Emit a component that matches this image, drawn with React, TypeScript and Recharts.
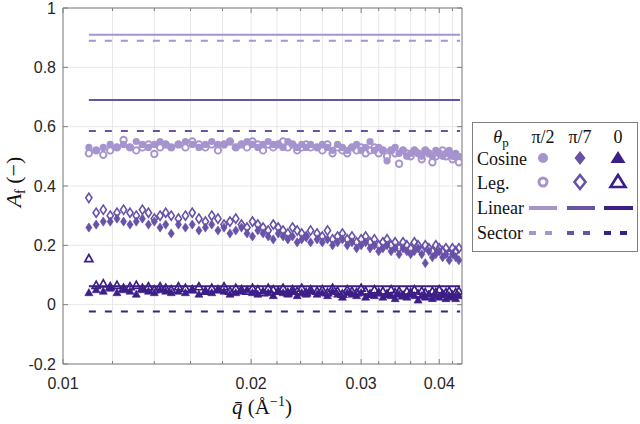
import { ComposedChart, Scatter, Line, XAxis, YAxis, CartesianGrid, ReferenceArea } from 'recharts';

// scattering vector q (1/Å), shared by all scatter series
const qValues = [
  0.0110, 0.0113, 0.0116, 0.0119, 0.0122, 0.0125, 0.0128, 0.0131, 0.0134, 0.0137, 0.0140, 0.0143, 0.0146, 0.0149,
  0.0153, 0.0157, 0.0161, 0.0165, 0.0169, 0.0173, 0.0177, 0.0181, 0.0185, 0.0189, 0.0193, 0.0197, 0.0201, 0.0205,
  0.0209, 0.0213, 0.0217, 0.0221, 0.0225, 0.0229, 0.0233, 0.0237, 0.0241, 0.0245, 0.0249,
  0.0255, 0.0260, 0.0265, 0.0270, 0.0275, 0.0280, 0.0285, 0.0290, 0.0295, 0.0300, 0.0305, 0.0310, 0.0315, 0.0320,
  0.0325, 0.0330, 0.0335, 0.0340, 0.0345, 0.0350, 0.0355, 0.0360, 0.0365, 0.0370, 0.0375, 0.0380, 0.0385, 0.0390,
  0.0395, 0.0400, 0.0405, 0.0410, 0.0415, 0.0420, 0.0425, 0.0430,
];

const cosinePi2 = [
  0.53, 0.52, 0.53, 0.54, 0.53, 0.54, 0.53, 0.55, 0.54, 0.53, 0.54, 0.55, 0.54, 0.53,
  0.54, 0.55, 0.54, 0.53, 0.54, 0.55, 0.54, 0.54, 0.55, 0.53, 0.54, 0.55, 0.54, 0.53, 0.54, 0.55, 0.54, 0.54, 0.53, 0.55, 0.54, 0.53, 0.54, 0.53, 0.54,
  0.53, 0.54, 0.53, 0.52, 0.54, 0.53, 0.52, 0.53, 0.54, 0.52, 0.53, 0.55, 0.52, 0.53, 0.52, 0.485, 0.52, 0.53, 0.51, 0.52, 0.50, 0.51, 0.52, 0.51, 0.50, 0.52, 0.51, 0.50, 0.52, 0.51, 0.50, 0.51, 0.52, 0.50, 0.51, 0.50,
];
const legPi2 = [
  0.51, 0.52, 0.505, 0.52, 0.53, 0.555, 0.53, 0.52, 0.53, 0.54, 0.508, 0.53, 0.54, 0.53,
  0.54, 0.53, 0.55, 0.54, 0.53, 0.54, 0.52, 0.54, 0.55, 0.53, 0.54, 0.53, 0.55, 0.54, 0.52, 0.54, 0.53, 0.54, 0.55, 0.53, 0.54, 0.52, 0.53, 0.54, 0.53,
  0.53, 0.52, 0.54, 0.51, 0.53, 0.52, 0.51, 0.53, 0.52, 0.53, 0.51, 0.52, 0.53, 0.51, 0.52, 0.50, 0.52, 0.51, 0.475, 0.52, 0.51, 0.50, 0.52, 0.51, 0.49, 0.52, 0.51, 0.48, 0.50, 0.51, 0.52, 0.50, 0.51, 0.49, 0.50, 0.48,
];
const cosinePi7 = [
  0.26, 0.27, 0.28, 0.28, 0.29, 0.28, 0.27, 0.28, 0.29, 0.27, 0.28, 0.26, 0.27, 0.24,
  0.27, 0.26, 0.27, 0.25, 0.26, 0.27, 0.25, 0.26, 0.24, 0.25, 0.26, 0.24, 0.23, 0.25, 0.24, 0.23, 0.22, 0.24, 0.23, 0.22, 0.23, 0.21, 0.22, 0.23, 0.21,
  0.22, 0.21, 0.22, 0.20, 0.21, 0.22, 0.20, 0.21, 0.19, 0.20, 0.21, 0.19, 0.20, 0.18, 0.19, 0.20, 0.18, 0.19, 0.17, 0.19, 0.18, 0.17, 0.18, 0.19, 0.17, 0.14, 0.18, 0.16, 0.17, 0.18, 0.16, 0.17, 0.15, 0.17, 0.16, 0.15,
];
const legPi7 = [
  0.36, 0.31, 0.32, 0.30, 0.31, 0.32, 0.31, 0.30, 0.32, 0.31, 0.29, 0.30, 0.31, 0.30,
  0.29, 0.30, 0.31, 0.29, 0.28, 0.30, 0.29, 0.27, 0.28, 0.29, 0.27, 0.26, 0.28, 0.27, 0.26, 0.25, 0.27, 0.26, 0.25, 0.24, 0.26, 0.25, 0.24, 0.23, 0.25,
  0.24, 0.23, 0.25, 0.22, 0.23, 0.24, 0.22, 0.23, 0.21, 0.22, 0.23, 0.21, 0.22, 0.20, 0.21, 0.22, 0.20, 0.21, 0.19, 0.21, 0.20, 0.19, 0.21, 0.20, 0.18, 0.20, 0.19, 0.18, 0.20, 0.19, 0.18, 0.19, 0.17, 0.19, 0.18, 0.19,
];
const cosine0 = [
  0.040, 0.050, 0.045, 0.055, 0.040, 0.050, 0.045, 0.035, 0.050, 0.045, 0.040, 0.050, 0.045, 0.040,
  0.045, 0.040, 0.050, 0.035, 0.045, 0.040, 0.050, 0.045, 0.035, 0.040, 0.045, 0.050, 0.040, 0.035, 0.045, 0.040, 0.030, 0.045, 0.040, 0.035, 0.045, 0.030, 0.040, 0.035, 0.045,
  0.035, 0.040, 0.030, 0.045, 0.035, 0.025, 0.040, 0.035, 0.030, 0.040, 0.025, 0.035, 0.030, 0.040, 0.025, 0.035, 0.030, 0.020, 0.035, 0.030, 0.025, 0.035, 0.030, 0.015, 0.030, 0.025, 0.035, 0.020, 0.030, 0.025, 0.035, 0.020, 0.030, 0.025, 0.020, 0.030,
];
const leg0 = [
  0.155, 0.065, 0.070, 0.060, 0.065, 0.055, 0.060, 0.065, 0.055, 0.060, 0.050, 0.060, 0.055, 0.050,
  0.060, 0.055, 0.050, 0.060, 0.045, 0.055, 0.050, 0.060, 0.045, 0.055, 0.050, 0.045, 0.055, 0.050, 0.040, 0.055, 0.050, 0.045, 0.055, 0.040, 0.050, 0.045, 0.055, 0.040, 0.050,
  0.045, 0.050, 0.040, 0.055, 0.045, 0.035, 0.050, 0.045, 0.040, 0.055, 0.045, 0.035, 0.050, 0.040, 0.045, 0.035, 0.050, 0.040, 0.045, 0.030, 0.045, 0.040, 0.050, 0.035, 0.045, 0.040, 0.030, 0.045, 0.040, 0.050, 0.035, 0.040, 0.045, 0.030, 0.040, 0.045,
];

// constant models, order: π/2, π/7, 0
const linearLevels = [0.91, 0.69, 0.062];
const sectorLevels = [0.89, 0.585, -0.023];
const lineSpan = [0.011, 0.0432];

const xTicks = [
  0.01, 0.012, 0.014, 0.016, 0.018, 0.02, 0.022, 0.024, 0.026, 0.028, 0.03,
  0.032, 0.034, 0.036, 0.038, 0.04, 0.042,
];
const xLabelTicks = [0.01, 0.02, 0.03, 0.04];
const yTicks = [-0.2, 0, 0.2, 0.4, 0.6, 0.8, 1];
const thetaLabels = ['π/2', 'π/7', '0'];
const colors = ['#a594cd', '#6852a8', '#3c1e87'];

const AXIS = '#808080';
const TICK_FONT = '"Liberation Sans", Arial, sans-serif';
const SERIF = '"Liberation Serif", "Times New Roman", serif';
const PLOT_TOP = 8;
const PLOT_RIGHT = 462;

const pts = (vals: number[]) => vals.map((v, i) => ({ q: qValues[i], v }));
const flat = (level: number) => lineSpan.map((q) => ({ q, v: level }));

const circle = (color: string, open: boolean) => (p: any) =>
  open
    ? <circle cx={p.cx} cy={p.cy} r={3.2} fill="none" stroke={color} strokeWidth={1.9} />
    : <circle cx={p.cx} cy={p.cy} r={3.6} fill={color} />;

const diamond = (color: string, open: boolean) => (p: any) => (
  <polygon
    points={`${p.cx},${p.cy - 4.6} ${p.cx + 3.1},${p.cy} ${p.cx},${p.cy + 4.6} ${p.cx - 3.1},${p.cy}`}
    fill={open ? 'none' : color} stroke={color} strokeWidth={open ? 1.6 : 0.6}
  />
);

const triangle = (color: string, open: boolean) => (p: any) => (
  <polygon
    points={`${p.cx},${p.cy - 4.2} ${p.cx + 4},${p.cy + 2.9} ${p.cx - 4},${p.cy + 2.9}`}
    fill={open ? 'none' : color} stroke={color} strokeWidth={open ? 1.7 : 0.6}
  />
);

const XTick = (props: any) => {
  const { x, y, payload } = props;
  const major = xLabelTicks.includes(payload.value);
  const axisY = y - 14;
  const len = major ? 5 : 3;
  return (
    <g>
      <line x1={x} x2={x} y1={axisY} y2={axisY - len} stroke={AXIS} />
      <line x1={x} x2={x} y1={PLOT_TOP} y2={PLOT_TOP + len} stroke={AXIS} />
      {major && (
        <text x={x} y={y} dy="0.71em" textAnchor="middle" fontFamily={TICK_FONT} fontSize={16} fill="#262626">
          {payload.value}
        </text>
      )}
    </g>
  );
};

const YTick = (props: any) => {
  const { x, y, payload } = props;
  const axisX = x + 7;
  return (
    <g>
      <line x1={axisX} x2={axisX + 5} y1={y} y2={y} stroke={AXIS} />
      <line x1={PLOT_RIGHT} x2={PLOT_RIGHT - 5} y1={y} y2={y} stroke={AXIS} />
      <text x={x} y={y} dy="0.355em" textAnchor="end" fontFamily={TICK_FONT} fontSize={16} fill="#262626">
        {payload.value}
      </text>
    </g>
  );
};

const scatterSeries = [
  { data: cosinePi2, shape: circle(colors[0], false) },
  { data: legPi2, shape: circle(colors[0], true) },
  { data: cosinePi7, shape: diamond(colors[1], false) },
  { data: legPi7, shape: diamond(colors[1], true) },
  { data: cosine0, shape: triangle(colors[2], false) },
  { data: leg0, shape: triangle(colors[2], true) },
];

function Legend() {
  const rowY = [36, 60];
  const colX = [71, 108, 146];
  const segX = [[57, 85], [95, 123], [132, 161]];
  return (
    <svg width={166} height={130} style={{ position: 'absolute', left: 472, top: 122 }}>
      <rect x={0.5} y={0.5} width={165} height={129} fill="#fff" stroke={AXIS} />
      <g fontFamily={SERIF} fontSize={18} fill="#111">
        <text x={29} y={21} textAnchor="middle">
          <tspan fontStyle="italic">θ</tspan>
          <tspan fontSize={13} dy={4}>p</tspan>
        </text>
        {thetaLabels.map((t, i) => (
          <text key={t} x={colX[i]} y={21} textAnchor="middle">{t}</text>
        ))}
        <text x={5} y={43}>Cosine</text>
        <text x={5} y={67}>Leg.</text>
        <text x={5} y={92}>Linear</text>
        <text x={5} y={117}>Sector</text>
      </g>
      {[false, true].map((open, r) => {
        const cy = rowY[r];
        const sw = open ? 3 : 0;
        return (
          <g key={r}>
            <circle cx={colX[0]} cy={cy} r={open ? 4 : 5} fill={open ? 'none' : colors[0]} stroke={colors[0]} strokeWidth={sw} />
            <polygon
              points={`${colX[1]},${cy - 7} ${colX[1] + 5.5},${cy} ${colX[1]},${cy + 7} ${colX[1] - 5.5},${cy}`}
              fill={open ? 'none' : colors[1]} stroke={colors[1]} strokeWidth={open ? 2.6 : 0}
            />
            <polygon
              points={`${colX[2]},${cy - 7} ${colX[2] + 7.5},${cy + 5} ${colX[2] - 7.5},${cy + 5}`}
              fill={open ? 'none' : colors[2]} stroke={colors[2]} strokeWidth={open ? 2.6 : 0}
            />
          </g>
        );
      })}
      {segX.map(([a, b], i) => (
        <g key={i}>
          <line x1={a} x2={b} y1={86} y2={86} stroke={colors[i]} strokeWidth={4} />
          <line x1={a} x2={b} y1={111} y2={111} stroke={colors[i]} strokeWidth={4} strokeDasharray="7 9" />
        </g>
      ))}
    </svg>
  );
}

export default function App() {
  return (
    <div style={{ position: 'relative', width: 640, height: 424, background: '#fff' }}>
      <style>{'body{margin:0}'}</style>
      <ComposedChart width={640} height={424} margin={{ top: 8, right: 178, bottom: 0, left: 0 }}>
        <CartesianGrid stroke="#e8e8e8" strokeWidth={1} />
        <XAxis
          dataKey="q" type="number" scale="log" domain={[0.01, 0.0435]} allowDataOverflow
          ticks={xTicks} interval={0} height={60} tickSize={0} tickMargin={14}
          axisLine={false} tickLine={false} tick={<XTick />}
        />
        <YAxis
          dataKey="v" type="number" domain={[-0.2, 1]} allowDataOverflow
          ticks={yTicks} interval={0} width={63} tickSize={0} tickMargin={7}
          axisLine={false} tickLine={false} tick={<YTick />}
        />
        {linearLevels.map((lv, i) => (
          <Line key={`lin${i}`} data={flat(lv)} dataKey="v" stroke={colors[i]} strokeWidth={2}
            dot={false} isAnimationActive={false} />
        ))}
        {sectorLevels.map((lv, i) => (
          <Line key={`sec${i}`} data={flat(lv)} dataKey="v" stroke={colors[i]} strokeWidth={2}
            strokeDasharray="7 9" dot={false} isAnimationActive={false} />
        ))}
        {scatterSeries.map((s, i) => (
          <Scatter key={`sc${i}`} data={pts(s.data)} dataKey="v" shape={s.shape} isAnimationActive={false} />
        ))}
        <ReferenceArea x1={0.01} x2={0.0435} y1={-0.2} y2={1} fill="none" stroke={AXIS} strokeWidth={1} />
      </ComposedChart>
      <svg width={640} height={424} style={{ position: 'absolute', left: 0, top: 0, pointerEvents: 'none' }}>
        <text x={262} y={414} textAnchor="middle" fontFamily={SERIF} fontSize={21} fill="#111">
          <tspan fontStyle="italic">q̄</tspan>
          <tspan> (Å</tspan>
          <tspan fontSize={14} dy={-8}>−1</tspan>
          <tspan dy={8}>)</tspan>
        </text>
        <text transform="rotate(-90)" x={-182} y={21} textAnchor="middle" fontFamily={SERIF} fontSize={22} fill="#111">
          <tspan fontStyle="italic">A</tspan>
          <tspan fontSize={14} dy={4}>f</tspan>
          <tspan dy={-4}> (−)</tspan>
        </text>
      </svg>
      <Legend />
    </div>
  );
}
